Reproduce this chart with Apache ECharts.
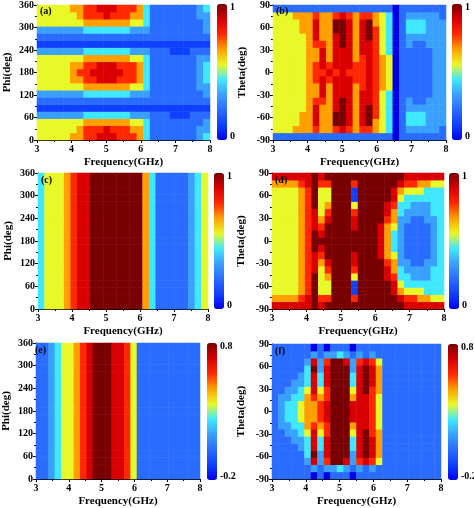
<!DOCTYPE html>
<html><head><meta charset="utf-8">
<script src="https://cdn.jsdelivr.net/npm/echarts@6/dist/echarts.min.js"></script>
<style>html,body{margin:0;padding:0;background:#fff}#c{width:474px;height:508px}</style>
</head><body><div id="c"></div>
<script>
// frequency columns 3.0..8.0 step 0.2 ; digits 0-9 = normalized level (0..9) of each panel's colour range
const freqs = ['3.0','3.2','3.4','3.6','3.8','4.0','4.2','4.4','4.6','4.8','5.0','5.2','5.4','5.6','5.8','6.0','6.2','6.4','6.6','6.8','7.0','7.2','7.4','7.6','7.8','8.0'];
const phiRows = ['0','20','40','60','80','100','120','140','160','180','200','220','240','260','280','300','320','340','360'];
const thetaRows = ['-90','-80','-70','-60','-50','-40','-30','-20','-10','0','10','20','30','40','50','60','70','80','90'];
const phiTicks = [0,360,60];
const thetaTicks = [-90,90,30];
const panelA = [
"55555 66778 88777 64222 22223 4","55555 56777 87776 64222 22223 3","55555 55666 66665 54222 22222 3",
"33333 33444 44443 33222 11122 2","11111 11111 11111 11111 11111 1","22222 22222 22222 22222 22222 2",
"33333 33444 44443 33222 22222 3","55555 55666 66665 54222 22223 3","55555 66778 88777 64222 22223 4",
"55555 67788 88877 64222 22223 4","55555 66778 88777 64222 22223 4","55555 55666 66665 54222 22223 3",
"33333 33444 44443 33222 11122 2","11111 11111 11111 11111 11111 1","22222 22222 22222 22222 22222 2",
"33333 33444 44443 33222 22222 3","55555 55666 66665 54222 22222 3","55555 56777 87776 64222 22223 3",
"55555 66778 88777 64222 22223 4"];
const panelB = [
"22222 22222 22222 22202 22222 2","55566 67667 87677 65402 33333 2","55556 68669 98689 65402 44433 3",
"55556 68669 98689 75402 44433 3","55555 68668 98689 75402 33333 3","55555 67768 98688 75402 32233 3",
"55555 66868 88688 75402 22223 3","55555 66868 88678 76502 22223 3","55555 67878 88778 76502 22223 3",
"55555 67787 87778 76502 22223 3",
"55555 67878 88778 76502 22223 3","55555 66868 88678 76502 22223 3","55555 66868 88688 75402 22223 3",
"55555 67768 98688 75402 32233 3","55555 68668 98689 75402 33333 3","55556 68669 98689 75402 44433 3",
"55556 68669 98689 65402 44433 3","55566 67667 87677 65402 33333 2","22222 22222 22222 22202 22222 2"];
const panelC = "45556 78899 99999 96422 22234 5";
const panelD = [
"88888 89899 99999 99999 88888 8","66667 89779 99799 99998 77665 5","55556 79559 99199 99986 55544 4",
"55556 79559 99199 99985 44444 4","55556 79569 99599 99874 43334 4","55556 78579 99799 99864 33334 4",
"55556 78689 99899 99763 32233 4","55556 78799 99899 98653 22223 4","55556 79899 99999 98643 22223 4",
"55556 79999 99999 98643 22223 4",
"55556 79899 99999 98643 22223 4","55556 78799 99899 98653 22223 4","55556 78689 99899 99763 32233 4",
"55556 78579 99799 99864 33334 4","55556 79569 99599 99874 43334 4","55556 79559 99199 99985 44444 4",
"55556 79559 99199 99986 55544 4","66667 89779 99799 99998 77665 5","88888 89899 99999 99999 88888 8"];
const panelE = "22345 56789 99887 52222 22222 2";
const panelF = [
"22222 20202 22022 22222 22222 2","22222 23233 43232 32222 22222 2","22222 38379 98378 75222 22222 2",
"22222 49389 99389 86222 22222 2","22223 48489 99489 86222 22222 2","22233 48489 99489 86222 22222 2",
"22334 58579 99589 76222 22222 2","23344 67679 99688 75222 22222 2","23445 66789 99888 75222 22222 2",
"23445 66789 99888 75222 22222 2",
"23445 66789 99888 75222 22222 2","23344 67679 99688 75222 22222 2","22334 58579 99589 76222 22222 2",
"22233 48489 99489 86222 22222 2","22223 48489 99489 86222 22222 2","22222 49389 99389 86222 22222 2",
"22222 38379 98378 75222 22222 2","22222 23233 43232 32222 22222 2","22222 20202 22022 22222 22222 2"];
const ranges = [[0,1],[0,1],[0,1],[0,1],[-0.2,0.8],[-0.2,0.8]];
const barLabels = [['1','0'],['1','0'],['1','0'],['1','0'],['0.8','-0.2'],['0.8','-0.2']];
const letters = ['(a)','(b)','(c)','(d)','(e)','(f)'];
const yNames = ['Phi(deg)','Theta(deg)','Phi(deg)','Theta(deg)','Phi(deg)','Theta(deg)'];

const digits = s => s.replace(/ /g,'').split('').map(Number);
function toData(rows, nRows, rng){
  const out=[];
  for(let j=0;j<nRows;j++){
    const r = digits(Array.isArray(rows)?rows[j]:rows);
    r.forEach((d,i)=>out.push([i,j,rng[0]+d/9*(rng[1]-rng[0])]));
  }
  return out;
}
const panels=[panelA,panelB,panelC,panelD,panelE,panelF];
// layout boxes: [left, top, width, height, colorbarLeft]
const boxes=[[37,4,173,136,217],[273,4,173,136,452],[38,173,170,136,214],[272,173,172,136,449],[32,343,168,137,207],[272,344,169,136,448]];
const font='Liberation Serif';
const colors=['#0000e8','#1040ff','#2a6cff','#3aa0ff','#40e8ff','#e8f828','#ffa000','#ff2800','#d80000','#780000'];
const grid=[],xAxis=[],yAxis=[],series=[],visualMap=[],graphic=[];
panels.forEach((p,k)=>{
  const b=boxes[k]; const isPhi=(k%2===0);
  const rows=isPhi?phiRows:thetaRows; const tk=isPhi?phiTicks:thetaTicks;
  grid.push({left:b[0],top:b[1],width:b[2],height:b[3]});
  xAxis.push({gridIndex:k,type:'category',data:freqs,show:false});
  yAxis.push({gridIndex:k,type:'category',data:rows,show:false});
  xAxis.push({gridIndex:k,type:'value',position:'bottom',min:3,max:8,interval:1,name:'Frequency(GHz)',nameLocation:'middle',nameGap:17,
    nameTextStyle:{fontFamily:font,fontWeight:'bold',fontSize:11,color:'#000'},
    axisLine:{onZero:false,lineStyle:{color:'#000'}},axisTick:{lineStyle:{color:'#000'},length:3},minorTick:{show:true,splitNumber:2,length:2,lineStyle:{color:'#000'}},
    splitLine:{show:false},axisLabel:{fontFamily:font,fontWeight:'bold',fontSize:10,color:'#000',margin:4}});
  yAxis.push({gridIndex:k,type:'value',position:'left',min:tk[0],max:tk[1],interval:tk[2],name:yNames[k],nameLocation:'middle',nameGap:isPhi?24:25,
    nameTextStyle:{fontFamily:font,fontWeight:'bold',fontSize:11,color:'#000'},
    axisLine:{show:true,onZero:false,lineStyle:{color:'#000'}},axisTick:{show:true,lineStyle:{color:'#000'},length:3},minorTick:{show:true,splitNumber:2,length:2,lineStyle:{color:'#000'}},
    splitLine:{show:false},axisLabel:{fontFamily:font,fontWeight:'bold',fontSize:10,color:'#000',margin:3}});
  series.push({type:'heatmap',xAxisIndex:2*k,yAxisIndex:2*k,data:toData(p,rows.length,ranges[k]),progressive:0,emphasis:{disabled:true}});
  visualMap.push({type:'continuous',seriesIndex:k,min:ranges[k][0],max:ranges[k][1],left:b[4],top:b[1],itemWidth:10,itemHeight:b[3],padding:0,
    calculable:false,hoverLink:false,text:['',''],showLabel:false,inRange:{color:colors}});
  graphic.push({type:'text',left:b[4]+13,top:b[1]-2,style:{text:barLabels[k][0],fontFamily:font,fontWeight:'bold',fontSize:10,fill:'#000'}});
  graphic.push({type:'text',left:b[4]+13,top:b[1]+b[3]-9,style:{text:barLabels[k][1],fontFamily:font,fontWeight:'bold',fontSize:10,fill:'#000'}});
  graphic.push({type:'text',left:b[0]+3,top:b[1]+2,z:100,style:{text:letters[k],fontFamily:font,fontWeight:'bold',fontSize:10,fill:'#000'}});
});
const chart=echarts.init(document.getElementById('c'));
chart.setOption({animation:false,grid,xAxis,yAxis,series,visualMap,graphic});
</script></body></html>
